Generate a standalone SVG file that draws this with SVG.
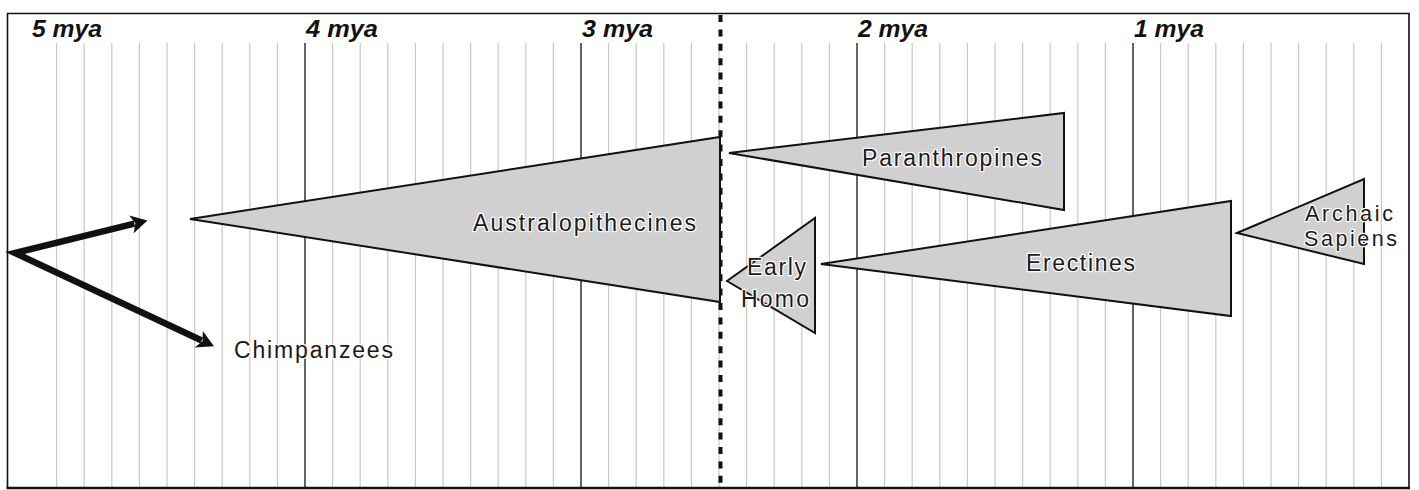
<svg xmlns="http://www.w3.org/2000/svg" width="1419" height="490" viewBox="0 0 1419 490">
<style>
.minor{stroke:#c8c8c8;stroke-width:1.2}
.major{stroke:#111;stroke-width:1.3}
.tri{fill:#d0d0d0;stroke:#111;stroke-width:2;stroke-linejoin:miter}
.lbl{font-family:"Liberation Sans",Arial,sans-serif;font-size:23px;fill:#1a1a1a;stroke:#fff;stroke-width:2.5;paint-order:stroke;stroke-linejoin:round}
.sm{font-size:21.5px}
.mya{font-family:"Liberation Sans",Arial,sans-serif;font-size:23px;font-weight:bold;font-style:italic;fill:#111}
</style>
<rect width="1419" height="490" fill="#fff"/>
<g id="grid">
<g class="minor">
<line x1="56.6" y1="43" x2="56.6" y2="488"/><line x1="84.2" y1="43" x2="84.2" y2="488"/><line x1="111.8" y1="43" x2="111.8" y2="488"/><line x1="139.4" y1="43" x2="139.4" y2="488"/><line x1="167" y1="43" x2="167" y2="488"/><line x1="194.6" y1="43" x2="194.6" y2="488"/><line x1="222.2" y1="43" x2="222.2" y2="488"/><line x1="249.8" y1="43" x2="249.8" y2="488"/><line x1="277.4" y1="43" x2="277.4" y2="488"/>
<line x1="332.6" y1="43" x2="332.6" y2="488"/><line x1="360.2" y1="43" x2="360.2" y2="488"/><line x1="387.8" y1="43" x2="387.8" y2="488"/><line x1="415.4" y1="43" x2="415.4" y2="488"/><line x1="443" y1="43" x2="443" y2="488"/><line x1="470.6" y1="43" x2="470.6" y2="488"/><line x1="498.2" y1="43" x2="498.2" y2="488"/><line x1="525.8" y1="43" x2="525.8" y2="488"/><line x1="553.4" y1="43" x2="553.4" y2="488"/>
<line x1="608.6" y1="43" x2="608.6" y2="488"/><line x1="636.2" y1="43" x2="636.2" y2="488"/><line x1="663.8" y1="43" x2="663.8" y2="488"/><line x1="691.4" y1="43" x2="691.4" y2="488"/><line x1="719" y1="43" x2="719" y2="488"/><line x1="746.6" y1="43" x2="746.6" y2="488"/><line x1="774.2" y1="43" x2="774.2" y2="488"/><line x1="801.8" y1="43" x2="801.8" y2="488"/><line x1="829.4" y1="43" x2="829.4" y2="488"/>
<line x1="884.6" y1="43" x2="884.6" y2="488"/><line x1="912.2" y1="43" x2="912.2" y2="488"/><line x1="939.8" y1="43" x2="939.8" y2="488"/><line x1="967.4" y1="43" x2="967.4" y2="488"/><line x1="995" y1="43" x2="995" y2="488"/><line x1="1022.6" y1="43" x2="1022.6" y2="488"/><line x1="1050.2" y1="43" x2="1050.2" y2="488"/><line x1="1077.8" y1="43" x2="1077.8" y2="488"/><line x1="1105.4" y1="43" x2="1105.4" y2="488"/>
<line x1="1160.6" y1="43" x2="1160.6" y2="488"/><line x1="1188.2" y1="43" x2="1188.2" y2="488"/><line x1="1215.8" y1="43" x2="1215.8" y2="488"/><line x1="1243.4" y1="43" x2="1243.4" y2="488"/><line x1="1271" y1="43" x2="1271" y2="488"/><line x1="1298.6" y1="43" x2="1298.6" y2="488"/><line x1="1326.2" y1="43" x2="1326.2" y2="488"/><line x1="1353.8" y1="43" x2="1353.8" y2="488"/><line x1="1381.4" y1="43" x2="1381.4" y2="488"/>
</g>
<g class="major">
<line x1="305" y1="43" x2="305" y2="488"/><line x1="581" y1="43" x2="581" y2="488"/><line x1="857" y1="43" x2="857" y2="488"/><line x1="1133" y1="43" x2="1133" y2="488"/>
</g>
<g fill="none" stroke="#111">
<polyline points="7.5,488 7.5,13.5 1409,13.5 1409,488" stroke-width="1.6"/>
<line x1="6.5" y1="488" x2="1410" y2="488" stroke-width="2.6"/>
</g>
</g>
<g id="axis-labels" class="mya">
<text x="32" y="37" textLength="70" lengthAdjust="spacingAndGlyphs">5 mya</text>
<text x="306" y="37" textLength="72" lengthAdjust="spacingAndGlyphs">4 mya</text>
<text x="582" y="37" textLength="71" lengthAdjust="spacingAndGlyphs">3 mya</text>
<text x="858" y="37" textLength="70" lengthAdjust="spacingAndGlyphs">2 mya</text>
<text x="1134" y="37" textLength="70" lengthAdjust="spacingAndGlyphs">1 mya</text>
</g>
<g id="boundary">
<line x1="720.5" y1="15" x2="720.5" y2="488" stroke="#111" stroke-width="4" stroke-dasharray="7 7.4"/>
</g>
<g id="australopithecines">
<polygon class="tri" points="190,219 720,137 720,302"/>
<text class="lbl" x="473" y="231" textLength="223" lengthAdjust="spacing">Australopithecines</text>
</g>
<g id="paranthropines">
<polygon class="tri" points="729,153 1064,113 1064,210"/>
<text class="lbl" x="862" y="166" textLength="180" lengthAdjust="spacing">Paranthropines</text>
</g>
<g id="early-homo">
<polygon class="tri" points="727,281 815,218 815,333"/>
<text class="lbl" x="747" y="275" textLength="59" lengthAdjust="spacing">Early</text>
<text class="lbl" x="741" y="307" textLength="68" lengthAdjust="spacing">Homo</text>
</g>
<g id="erectines">
<polygon class="tri" points="821,264 1231,201 1231,316"/>
<text class="lbl" x="1026" y="271" textLength="109" lengthAdjust="spacing">Erectines</text>
</g>
<g id="archaic-sapiens">
<polygon class="tri" points="1237,233 1364,179 1364,264"/>
<text class="lbl sm" x="1305" y="221" textLength="88" lengthAdjust="spacing">Archaic</text>
<text class="lbl sm" x="1304" y="246" textLength="93" lengthAdjust="spacing">Sapiens</text>
</g>
<g id="chimpanzees">
<text class="lbl" x="234" y="358" textLength="159" lengthAdjust="spacing">Chimpanzees</text>
</g>
<g id="connectors">
<polyline points="134.4,223.6 15,253 201.7,340.5" fill="none" stroke="#111" stroke-width="6.5" stroke-linejoin="miter" stroke-miterlimit="6"/>
<polygon points="147.5,220.4 129.2,215.5 135.34,223.33 133.7,233.2" fill="#111"/>
<polygon points="214,346.2 202.8,330.9 202.61,340.95 194.8,347.4" fill="#111"/>
</g>
</svg>
